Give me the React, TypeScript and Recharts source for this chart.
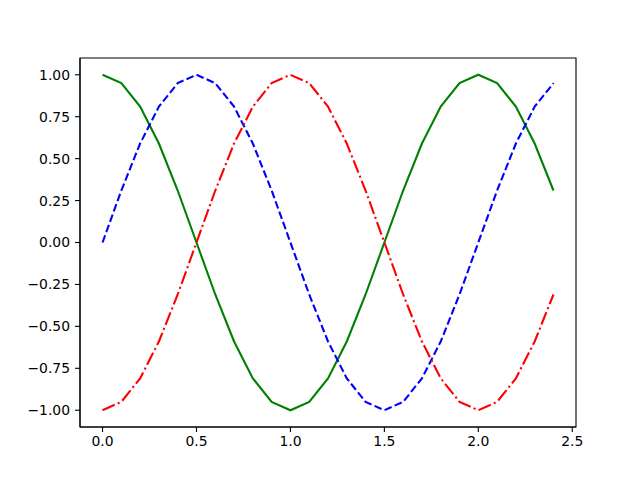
import React from 'react';
import { LineChart, Line, XAxis, YAxis, ReferenceArea } from 'recharts';

const xs = [0, 0.1, 0.2, 0.3, 0.4, 0.5, 0.6, 0.7, 0.8, 0.9, 1.0, 1.1, 1.2, 1.3, 1.4, 1.5, 1.6, 1.7, 1.8, 1.9, 2.0, 2.1, 2.2, 2.3, 2.4];
const greenSolid = [1, 0.95, 0.81, 0.59, 0.31, 0, -0.31, -0.59, -0.81, -0.95, -1, -0.95, -0.81, -0.59, -0.31, 0, 0.31, 0.59, 0.81, 0.95, 1, 0.95, 0.81, 0.59, 0.31];
const blueDashed = [0, 0.31, 0.59, 0.81, 0.95, 1, 0.95, 0.81, 0.59, 0.31, 0, -0.31, -0.59, -0.81, -0.95, -1, -0.95, -0.81, -0.59, -0.31, 0, 0.31, 0.59, 0.81, 0.95];
const redDashDot = [-1, -0.95, -0.81, -0.59, -0.31, 0, 0.31, 0.59, 0.81, 0.95, 1, 0.95, 0.81, 0.59, 0.31, 0, -0.31, -0.59, -0.81, -0.95, -1, -0.95, -0.81, -0.59, -0.31];

const xTicks = [0, 0.5, 1.0, 1.5, 2.0, 2.5];
const yTicks = [-1.0, -0.75, -0.5, -0.25, 0, 0.25, 0.5, 0.75, 1.0];

const data = xs.map((x, i) => ({
  x,
  green: greenSolid[i],
  blue: blueDashed[i],
  red: redDashDot[i],
}));

const tickStyle = { fill: '#000', fontSize: 13.9, fontFamily: 'DejaVu Sans' };

// matplotlib draws negatives with a real minus sign
const fmtY = (v: number) => (v < 0 ? '\u2212' + Math.abs(v).toFixed(2) : v.toFixed(2));

export default function App() {
  return (
    <div style={{ position: 'absolute', left: 0, top: 0, width: 640, height: 480, background: '#fff' }}>
      <LineChart
        width={640}
        height={480}
        data={data}
        margin={{ top: 58, right: 64, bottom: 23, left: 0 }}
      >
        <XAxis
          dataKey="x"
          type="number"
          domain={[-0.12, 2.52]}
          ticks={xTicks}
          allowDataOverflow
          height={30}
          tickSize={5}
          tickMargin={4}
          tick={tickStyle}
          tickFormatter={(v: number) => v.toFixed(1)}
          stroke="#000"
          tickLine={{ stroke: '#000', strokeWidth: 1.1 }}
          axisLine={{ stroke: '#000', strokeWidth: 1.1 }}
        />
        <YAxis
          type="number"
          domain={[-1.1, 1.1]}
          ticks={yTicks}
          allowDataOverflow
          width={80}
          tickSize={5}
          tickMargin={5}
          tick={tickStyle}
          tickFormatter={fmtY}
          stroke="#000"
          tickLine={{ stroke: '#000', strokeWidth: 1.1 }}
          axisLine={{ stroke: '#000', strokeWidth: 1.1 }}
        />
        <ReferenceArea
          x1={-0.12}
          x2={2.52}
          y1={-1.1}
          y2={1.1}
          fill="none"
          fillOpacity={0}
          stroke="#000"
          strokeWidth={1.1}
          ifOverflow="visible"
        />
        <Line type="linear" dataKey="green" stroke="#008000" strokeWidth={2.1} dot={false} isAnimationActive={false} />
        <Line type="linear" dataKey="blue" stroke="#0000ff" strokeWidth={2.1} strokeDasharray="7.7 3.3" dot={false} isAnimationActive={false} />
        <Line type="linear" dataKey="red" stroke="#ff0000" strokeWidth={2.1} strokeDasharray="13.3 3.3 2.1 3.3" dot={false} isAnimationActive={false} />
      </LineChart>
    </div>
  );
}
